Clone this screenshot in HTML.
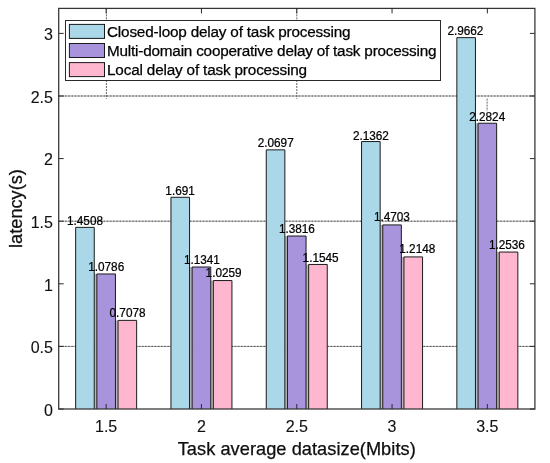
<!DOCTYPE html>
<html><head><meta charset="utf-8"><style>
html,body{margin:0;padding:0;background:#fff;}
svg{display:block;}
text{font-family:"Liberation Sans",Arial,sans-serif;fill:#000;stroke:#000;stroke-width:0.25px;}
.v{font-size:12.55px;text-anchor:middle;}
.t{font-size:16px;fill:#111;stroke:#111;stroke-width:0.12px;}
.l{font-size:15.3px;}
.a{font-size:18.2px;fill:#111;}
</style></head><body>
<svg width="550" height="463" viewBox="0 0 550 463">
<rect x="0" y="0" width="550" height="463" fill="#fff"/>
<line x1="58.7" y1="346.40" x2="534.9" y2="346.40" stroke="#a8a8a8" stroke-width="1"/>
<line x1="58.7" y1="346.40" x2="534.9" y2="346.40" stroke="#555" stroke-width="1" stroke-dasharray="1.6 1.6"/>
<line x1="58.7" y1="221.20" x2="534.9" y2="221.20" stroke="#a8a8a8" stroke-width="1"/>
<line x1="58.7" y1="221.20" x2="534.9" y2="221.20" stroke="#555" stroke-width="1" stroke-dasharray="1.6 1.6"/>
<line x1="58.7" y1="96.00" x2="534.9" y2="96.00" stroke="#a8a8a8" stroke-width="1"/>
<line x1="58.7" y1="96.00" x2="534.9" y2="96.00" stroke="#555" stroke-width="1" stroke-dasharray="1.6 1.6"/>
<line x1="106.4" y1="8.4" x2="106.4" y2="20.5" stroke="#666" stroke-width="1" stroke-dasharray="2 1"/>
<line x1="106.4" y1="80" x2="106.4" y2="98.8" stroke="#666" stroke-width="1" stroke-dasharray="2 1"/>
<line x1="296.8" y1="8.4" x2="296.8" y2="20.5" stroke="#666" stroke-width="1" stroke-dasharray="2 1"/>
<line x1="296.8" y1="80" x2="296.8" y2="98.8" stroke="#666" stroke-width="1" stroke-dasharray="2 1"/>
<line x1="487.1" y1="98.6" x2="487.1" y2="111.2" stroke="#666" stroke-width="1" stroke-dasharray="2 1"/>
<rect x="94.25" y="273.96" width="2.60" height="135.04" fill="#b8b8b8"/>
<rect x="115.45" y="320.38" width="2.60" height="88.62" fill="#b8b8b8"/>
<rect x="189.55" y="267.01" width="2.60" height="141.99" fill="#b8b8b8"/>
<rect x="210.75" y="280.56" width="2.60" height="128.44" fill="#b8b8b8"/>
<rect x="284.85" y="236.02" width="2.60" height="172.98" fill="#b8b8b8"/>
<rect x="306.05" y="264.46" width="2.60" height="144.54" fill="#b8b8b8"/>
<rect x="380.15" y="224.92" width="2.60" height="184.08" fill="#b8b8b8"/>
<rect x="401.35" y="256.91" width="2.60" height="152.09" fill="#b8b8b8"/>
<rect x="475.45" y="123.24" width="2.60" height="285.76" fill="#b8b8b8"/>
<rect x="496.65" y="252.05" width="2.60" height="156.95" fill="#b8b8b8"/>
<path d="M75.65 409.0 V227.36 H94.25 V409.0" fill="#aad8e8" stroke="#1a1a1a" stroke-width="1"/>
<path d="M96.85 409.0 V273.96 H115.45 V409.0" fill="#a893dd" stroke="#1a1a1a" stroke-width="1"/>
<path d="M118.05 409.0 V320.38 H136.65 V409.0" fill="#ffb7d0" stroke="#1a1a1a" stroke-width="1"/>
<path d="M170.95 409.0 V197.29 H189.55 V409.0" fill="#aad8e8" stroke="#1a1a1a" stroke-width="1"/>
<path d="M192.15 409.0 V267.01 H210.75 V409.0" fill="#a893dd" stroke="#1a1a1a" stroke-width="1"/>
<path d="M213.35 409.0 V280.56 H231.95 V409.0" fill="#ffb7d0" stroke="#1a1a1a" stroke-width="1"/>
<path d="M266.25 409.0 V149.87 H284.85 V409.0" fill="#aad8e8" stroke="#1a1a1a" stroke-width="1"/>
<path d="M287.45 409.0 V236.02 H306.05 V409.0" fill="#a893dd" stroke="#1a1a1a" stroke-width="1"/>
<path d="M308.65 409.0 V264.46 H327.25 V409.0" fill="#ffb7d0" stroke="#1a1a1a" stroke-width="1"/>
<path d="M361.55 409.0 V141.55 H380.15 V409.0" fill="#aad8e8" stroke="#1a1a1a" stroke-width="1"/>
<path d="M382.75 409.0 V224.92 H401.35 V409.0" fill="#a893dd" stroke="#1a1a1a" stroke-width="1"/>
<path d="M403.95 409.0 V256.91 H422.55 V409.0" fill="#ffb7d0" stroke="#1a1a1a" stroke-width="1"/>
<path d="M456.85 409.0 V37.63 H475.45 V409.0" fill="#aad8e8" stroke="#1a1a1a" stroke-width="1"/>
<path d="M478.05 409.0 V123.24 H496.65 V409.0" fill="#a893dd" stroke="#1a1a1a" stroke-width="1"/>
<path d="M499.25 409.0 V252.05 H517.85 V409.0" fill="#ffb7d0" stroke="#1a1a1a" stroke-width="1"/>
<rect x="58.7" y="8.4" width="476.20" height="400.60" fill="none" stroke="#333" stroke-width="1.25"/>
<line x1="106.15" y1="409.0" x2="106.15" y2="404.0" stroke="#2b2b2b" stroke-width="1"/>
<line x1="106.15" y1="8.4" x2="106.15" y2="13.4" stroke="#2b2b2b" stroke-width="1"/>
<line x1="201.45" y1="409.0" x2="201.45" y2="404.0" stroke="#2b2b2b" stroke-width="1"/>
<line x1="201.45" y1="8.4" x2="201.45" y2="13.4" stroke="#2b2b2b" stroke-width="1"/>
<line x1="296.75" y1="409.0" x2="296.75" y2="404.0" stroke="#2b2b2b" stroke-width="1"/>
<line x1="296.75" y1="8.4" x2="296.75" y2="13.4" stroke="#2b2b2b" stroke-width="1"/>
<line x1="392.05" y1="409.0" x2="392.05" y2="404.0" stroke="#2b2b2b" stroke-width="1"/>
<line x1="392.05" y1="8.4" x2="392.05" y2="13.4" stroke="#2b2b2b" stroke-width="1"/>
<line x1="487.35" y1="409.0" x2="487.35" y2="404.0" stroke="#2b2b2b" stroke-width="1"/>
<line x1="487.35" y1="8.4" x2="487.35" y2="13.4" stroke="#2b2b2b" stroke-width="1"/>
<line x1="58.7" y1="409.00" x2="63.7" y2="409.00" stroke="#2b2b2b" stroke-width="1"/>
<line x1="534.9" y1="409.00" x2="529.9" y2="409.00" stroke="#2b2b2b" stroke-width="1"/>
<line x1="58.7" y1="346.40" x2="63.7" y2="346.40" stroke="#2b2b2b" stroke-width="1"/>
<line x1="534.9" y1="346.40" x2="529.9" y2="346.40" stroke="#2b2b2b" stroke-width="1"/>
<line x1="58.7" y1="283.80" x2="63.7" y2="283.80" stroke="#2b2b2b" stroke-width="1"/>
<line x1="534.9" y1="283.80" x2="529.9" y2="283.80" stroke="#2b2b2b" stroke-width="1"/>
<line x1="58.7" y1="221.20" x2="63.7" y2="221.20" stroke="#2b2b2b" stroke-width="1"/>
<line x1="534.9" y1="221.20" x2="529.9" y2="221.20" stroke="#2b2b2b" stroke-width="1"/>
<line x1="58.7" y1="158.60" x2="63.7" y2="158.60" stroke="#2b2b2b" stroke-width="1"/>
<line x1="534.9" y1="158.60" x2="529.9" y2="158.60" stroke="#2b2b2b" stroke-width="1"/>
<line x1="58.7" y1="96.00" x2="63.7" y2="96.00" stroke="#2b2b2b" stroke-width="1"/>
<line x1="534.9" y1="96.00" x2="529.9" y2="96.00" stroke="#2b2b2b" stroke-width="1"/>
<line x1="58.7" y1="33.40" x2="63.7" y2="33.40" stroke="#2b2b2b" stroke-width="1"/>
<line x1="534.9" y1="33.40" x2="529.9" y2="33.40" stroke="#2b2b2b" stroke-width="1"/>
<text transform="translate(84.97 225.30) scale(0.94 1)" class="v">1.4508</text>
<text transform="translate(106.20 271.20) scale(0.94 1)" class="v">1.0786</text>
<text transform="translate(127.56 316.70) scale(0.94 1)" class="v">0.7078</text>
<text transform="translate(180.08 194.80) scale(0.94 1)" class="v">1.691</text>
<text transform="translate(201.90 263.90) scale(0.94 1)" class="v">1.1341</text>
<text transform="translate(223.60 276.50) scale(0.94 1)" class="v">1.0259</text>
<text transform="translate(275.70 146.70) scale(0.94 1)" class="v">2.0697</text>
<text transform="translate(296.90 233.10) scale(0.94 1)" class="v">1.3816</text>
<text transform="translate(320.60 262.00) scale(0.94 1)" class="v">1.1545</text>
<text transform="translate(370.90 140.10) scale(0.94 1)" class="v">2.1362</text>
<text transform="translate(391.90 221.00) scale(0.94 1)" class="v">1.4703</text>
<text transform="translate(417.30 253.10) scale(0.94 1)" class="v">1.2148</text>
<text transform="translate(465.40 34.80) scale(0.94 1)" class="v">2.9662</text>
<text transform="translate(487.20 120.50) scale(0.94 1)" class="v">2.2824</text>
<text transform="translate(506.90 249.40) scale(0.94 1)" class="v">1.2536</text>
<text x="106.15" y="432.1" class="t" text-anchor="middle">1.5</text>
<text x="201.45" y="432.1" class="t" text-anchor="middle">2</text>
<text x="296.75" y="432.1" class="t" text-anchor="middle">2.5</text>
<text x="392.05" y="432.1" class="t" text-anchor="middle">3</text>
<text x="487.35" y="432.1" class="t" text-anchor="middle">3.5</text>
<text x="52.9" y="415.70" class="t" text-anchor="end">0</text>
<text x="52.9" y="353.10" class="t" text-anchor="end">0.5</text>
<text x="52.9" y="290.50" class="t" text-anchor="end">1</text>
<text x="52.9" y="227.90" class="t" text-anchor="end">1.5</text>
<text x="52.9" y="165.30" class="t" text-anchor="end">2</text>
<text x="52.9" y="102.70" class="t" text-anchor="end">2.5</text>
<text x="52.9" y="40.10" class="t" text-anchor="end">3</text>
<rect x="65.5" y="20.5" width="375" height="60" fill="#fff" stroke="#2b2b2b" stroke-width="1"/>
<rect x="69.4" y="24.40" width="35.1" height="14" fill="#aad8e8" stroke="#1a1a1a" stroke-width="1"/>
<text x="107.0" y="36.90" class="l" textLength="243.5" lengthAdjust="spacing">Closed-loop delay of task processing</text>
<rect x="69.4" y="43.50" width="35.1" height="14" fill="#a893dd" stroke="#1a1a1a" stroke-width="1"/>
<text x="107.0" y="56.00" class="l" textLength="329.5" lengthAdjust="spacing">Multi-domain cooperative delay of task processing</text>
<rect x="69.4" y="62.60" width="35.1" height="14" fill="#ffb7d0" stroke="#1a1a1a" stroke-width="1"/>
<text x="107.0" y="75.10" class="l" textLength="200.0" lengthAdjust="spacing">Local delay of task processing</text>
<text x="296.7" y="455" class="a" text-anchor="middle" textLength="238" lengthAdjust="spacing">Task average datasize(Mbits)</text>
<text transform="translate(21.5 208.5) rotate(-90)" x="0" y="0" class="a" text-anchor="middle">latency(s)</text>
</svg>
</body></html>
